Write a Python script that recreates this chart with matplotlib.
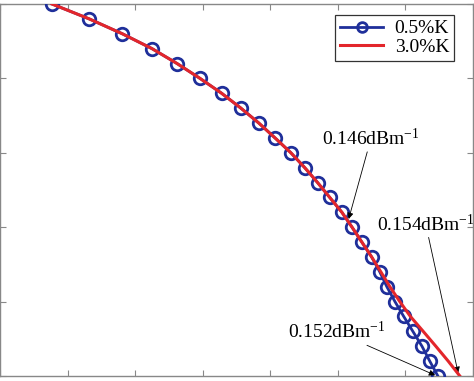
import matplotlib
matplotlib.use("Agg")
import matplotlib.pyplot as plt

plt.rcParams['font.family'] = ['Liberation Serif', 'DejaVu Serif']
plt.rcParams['mathtext.fontset'] = 'custom'
plt.rcParams['mathtext.rm'] = 'Liberation Serif'
plt.rcParams['mathtext.it'] = 'Liberation Serif:italic'

# data (axis units are tick intervals)
y_vals = [5.0, 4.8, 4.6, 4.4, 4.2, 4.0, 3.8, 3.6, 3.4, 3.2, 3.0, 2.8, 2.6,
          2.4, 2.2, 2.0, 1.8, 1.6, 1.4, 1.2, 1.0, 0.8, 0.6, 0.4, 0.2, 0.0]
x_05 = [0.77, 1.32, 1.81, 2.25, 2.62, 2.96, 3.28, 3.565, 3.83, 4.07, 4.305,
        4.51, 4.70, 4.88, 5.06, 5.21, 5.355, 5.50, 5.62, 5.725, 5.845, 5.975,
        6.11, 6.245, 6.36, 6.48]
x_30 = [0.77, 1.32, 1.81, 2.25, 2.62, 2.96, 3.28, 3.565, 3.83, 4.07, 4.305,
        4.51, 4.70, 4.88, 5.06, 5.21, 5.355, 5.50, 5.636, 5.77, 5.917, 6.074,
        6.263, 6.45, 6.633, 6.805]
labels = ['0.5%K', '3.0%K']
x_ticks = [0, 1, 2, 3, 4, 5, 6, 7]
y_ticks = [0, 1, 2, 3, 4, 5]

fig = plt.figure(figsize=(4.74, 3.81), dpi=100)
ax = fig.add_axes([0.0, 5/381, 473/474, 372/381])

blue = '#1f2f9a'
red = '#e3262b'
ax.plot(x_05, y_vals, color=blue, lw=2.0, marker='o', ms=9, mfc='none',
        mec=blue, mew=2.0, label=labels[0], zorder=3)
ax.plot(x_30, y_vals, color=red, lw=2.2, label=labels[1], zorder=4)

ax.set_xlim(0, 7)
ax.set_ylim(0, 5)
ax.set_xticks(x_ticks)
ax.set_yticks(y_ticks)
ax.set_xticklabels([])
ax.set_yticklabels([])
ax.tick_params(direction='in', length=4, width=0.8, color='#888888',
               top=True, right=True)
for s in ax.spines.values():
    s.set_color('#888888')
    s.set_linewidth(1.0)

ap = dict(arrowstyle='-|>', color='black', lw=0.6, mutation_scale=9,
          shrinkA=0, shrinkB=0)
fs = 14
ax.annotate('0.146dBm$^{-1}$', xy=(5.16, 2.11), xytext=(5.49, 3.05),
            fontsize=fs, ha='center', va='bottom', arrowprops=ap,
            textcoords='data')
ax.annotate('0.154dBm$^{-1}$', xy=(6.78, 0.04), xytext=(6.30, 1.9),
            fontsize=fs, ha='center', va='bottom', arrowprops=ap)
ax.annotate('0.152dBm$^{-1}$', xy=(6.44, 0.01), xytext=(4.98, 0.45),
            fontsize=fs, ha='center', va='bottom', arrowprops=ap)

leg = ax.legend(loc='upper right', bbox_to_anchor=(454/473, 1 - 11/372),
                fontsize=fs, frameon=True, fancybox=False, handlelength=2.2,
                borderpad=0.25, labelspacing=0.05, handletextpad=0.6,
                borderaxespad=0)
leg.get_frame().set_edgecolor('black')
leg.get_frame().set_linewidth(0.9)
leg.legend_handles[0].set_markersize(7)

fig.savefig('out.png', dpi=100)
